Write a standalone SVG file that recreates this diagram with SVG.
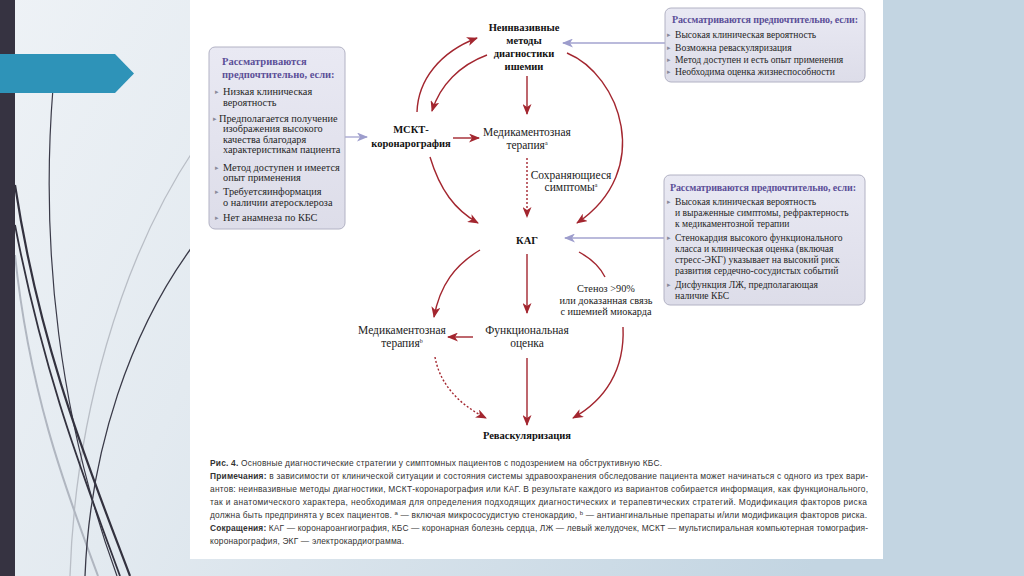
<svg xmlns="http://www.w3.org/2000/svg" width="1024" height="576" viewBox="0 0 1024 576">
<defs>
<linearGradient id="bg" x1="0" y1="0" x2="1" y2="0.3">
<stop offset="0" stop-color="#eef2f6"/>
<stop offset="0.35" stop-color="#e3eaf0"/>
<stop offset="1" stop-color="#c3d5e2"/>
</linearGradient>
<linearGradient id="boxg" x1="0" y1="0" x2="0" y2="1">
<stop offset="0" stop-color="#e9e9f3"/>
<stop offset="1" stop-color="#dddde9"/>
</linearGradient>
<marker id="ar" markerUnits="userSpaceOnUse" markerWidth="11" markerHeight="9" refX="10" refY="4.5" orient="auto">
<path d="M0,0 L11,4.5 L0,9 L3,4.5 z" fill="#a3262f"/>
</marker>
<marker id="ag" markerUnits="userSpaceOnUse" markerWidth="11" markerHeight="9" refX="10" refY="4.5" orient="auto">
<path d="M0,0 L11,4.5 L0,9 L3,4.5 z" fill="#9d9dcc"/>
</marker>
<style>
.red{fill:none;stroke:#a3262f;stroke-width:1.4}
.dot{stroke-dasharray:2,2}
.gry{fill:none;stroke:#a3a3cf;stroke-width:1.3}
.box{fill:url(#boxg);stroke:#b2b2c4;stroke-width:1}
.ttl{font-family:"Liberation Serif",serif;font-weight:bold;fill:#5b4f98}
.bt{font-family:"Liberation Serif",serif;fill:#262626}
.bul{font-family:"DejaVu Sans",sans-serif;fill:#8a8a9a;font-size:7px}
.nb{font-family:"Liberation Serif",serif;font-weight:bold;fill:#111;text-anchor:middle}
.nr{font-family:"Liberation Serif",serif;fill:#222;text-anchor:middle}
.cap{font-family:"Liberation Sans",sans-serif;fill:#333;font-size:8.4px}
.sup{font-size:6px}
</style>
</defs>
<rect x="0" y="0" width="1024" height="576" fill="url(#bg)"/>
<rect x="883" y="0" width="141" height="576" fill="#c3d5e2"/>
<g id="decor" fill="none">
<path d="M195,148 C120,260 75,420 70,576" stroke="#b9bec6" stroke-width="1.3"/>
<path d="M15,255 C30,400 70,500 98,576" stroke="#b0b6c0" stroke-width="2"/>
<path d="M53,88 C40,250 60,420 117,576" stroke="#3a3a48" stroke-width="1.2"/>
<path d="M15,185 C40,350 90,470 130,576" stroke="#33323f" stroke-width="2.2"/>
<path d="M15,225 C45,380 85,480 120,576" stroke="#33323f" stroke-width="1.8"/>
<path d="M195,243 C130,330 90,450 85,576" stroke="#3a3a48" stroke-width="1.3"/>
</g>
<rect x="0" y="0" width="15" height="576" fill="#363341"/>
<polygon points="0,54 115,54 134,73.5 115,93 0,93" fill="#2e93b8"/>
<rect x="190" y="0" width="693" height="559" fill="#ffffff"/>

<g id="connectors">
<path class="red" d="M417,112 C418,80 440,52 477,38" marker-end="url(#ar)"/>
<path class="red" d="M487,55 C460,65 440,85 432,111" marker-end="url(#ar)"/>
<path class="red" d="M527,76 L527,114" marker-end="url(#ar)"/>
<path class="red" d="M453,138 L479,138" marker-end="url(#ar)"/>
<path class="red" d="M430,157 C440,190 455,210 478,223" marker-end="url(#ar)"/>
<path class="red" d="M567,53 C620,75 655,170 577,223" marker-end="url(#ar)"/>
<path class="red dot" d="M527,158 L527,217" marker-end="url(#ar)"/>
<path class="red" d="M480,250 C455,265 440,285 434,317" marker-end="url(#ar)"/>
<path class="red" d="M527,254 L527,313" marker-end="url(#ar)"/>
<path class="red" d="M579,252 C592,259 600,267 605,277"/>
<path class="red" d="M623,327 C625,370 605,400 573,418" marker-end="url(#ar)"/>
<path class="red" d="M473,337 L448,337" marker-end="url(#ar)"/>
<path class="red" d="M527,358 L527,425" marker-end="url(#ar)"/>
<path class="red dot" d="M435,357 C440,385 460,405 486,418" marker-end="url(#ar)"/>
<path class="gry" d="M665,43 L563,43" marker-end="url(#ag)"/>
<path class="gry" d="M345,137 L367,137" marker-end="url(#ag)"/>
<path class="gry" d="M664,238 L565,238" marker-end="url(#ag)"/>
</g>

<g id="box-left">
<rect class="box" x="209" y="47" width="136" height="182" rx="6"/>
<text class="ttl" font-size="10.5" x="222" y="65">Рассматриваются</text>
<text class="ttl" font-size="10.5" x="222" y="78">предпочтительно, если:</text>
<text class="bul" x="215" y="94">▸</text>
<text class="bt" font-size="10.3" x="223" y="95">Низкая клиническая</text>
<text class="bt" font-size="10.3" x="223" y="106">вероятность</text>
<text class="bul" x="213" y="121">▸</text>
<text class="bt" font-size="10.3" x="219" y="122">Предполагается получение</text>
<text class="bt" font-size="10.3" x="223" y="132">изображения высокого</text>
<text class="bt" font-size="10.3" x="223" y="143">качества благодаря</text>
<text class="bt" font-size="10.3" x="223" y="153">характеристикам пациента</text>
<text class="bul" x="215" y="170">▸</text>
<text class="bt" font-size="10.3" x="223" y="171">Метод доступен и имеется</text>
<text class="bt" font-size="10.3" x="223" y="181">опыт применения</text>
<text class="bul" x="215" y="194">▸</text>
<text class="bt" font-size="10.3" x="223" y="195">Требуетсяинформация</text>
<text class="bt" font-size="10.3" x="223" y="206">о наличии атеросклероза</text>
<text class="bul" x="215" y="220">▸</text>
<text class="bt" font-size="10.3" x="223" y="221">Нет анамнеза по КБС</text>
</g>

<g id="box-top-right">
<rect class="box" x="665" y="8" width="200" height="74" rx="6"/>
<text class="ttl" font-size="10" x="672" y="23" textLength="186">Рассматриваются предпочтительно, если:</text>
<text class="bul" x="667" y="37">▸</text>
<text class="bt" font-size="9.6" x="675" y="38">Высокая клиническая вероятность</text>
<text class="bul" x="667" y="50">▸</text>
<text class="bt" font-size="9.6" x="675" y="51">Возможна реваскуляризация</text>
<text class="bul" x="667" y="62">▸</text>
<text class="bt" font-size="9.6" x="675" y="63">Метод доступен и есть опыт применения</text>
<text class="bul" x="667" y="74">▸</text>
<text class="bt" font-size="9.6" x="675" y="75">Необходима оценка жизнеспособности</text>
</g>

<g id="box-mid-right">
<rect class="box" x="664" y="175" width="201" height="130" rx="6"/>
<text class="ttl" font-size="10" x="670" y="191" textLength="186">Рассматриваются предпочтительно, если:</text>
<text class="bul" x="667" y="204">▸</text>
<text class="bt" font-size="9.6" x="675" y="205">Высокая клиническая вероятность</text>
<text class="bt" font-size="9.6" x="675" y="216">и выраженные симптомы, рефрактерность</text>
<text class="bt" font-size="9.6" x="675" y="227">к медикаментозной терапии</text>
<text class="bul" x="667" y="240">▸</text>
<text class="bt" font-size="9.6" x="675" y="241">Стенокардия высокого функционального</text>
<text class="bt" font-size="9.6" x="675" y="252">класса и клиническая оценка (включая</text>
<text class="bt" font-size="9.6" x="675" y="263">стресс-ЭКГ) указывает на высокий риск</text>
<text class="bt" font-size="9.6" x="675" y="274">развития сердечно-сосудистых событий</text>
<text class="bul" x="667" y="287">▸</text>
<text class="bt" font-size="9.6" x="675" y="288">Дисфункция ЛЖ, предполагающая</text>
<text class="bt" font-size="9.6" x="675" y="299">наличие КБС</text>
</g>

<g id="node-noninvasive">
<text class="nb" font-size="10.5" x="524" y="31">Неинвазивные</text>
<text class="nb" font-size="10.5" x="524" y="44">методы</text>
<text class="nb" font-size="10.5" x="524" y="57">диагностики</text>
<text class="nb" font-size="10.5" x="524" y="70">ишемии</text>
</g>
<g id="node-msct">
<text class="nb" font-size="10.5" x="411" y="133">МСКТ-</text>
<text class="nb" font-size="10.5" x="411" y="147">коронарография</text>
</g>
<g id="node-med1">
<text class="nr" font-size="11.5" x="527" y="136">Медикаментозная</text>
<text class="nr" font-size="11.5" x="527" y="149">терапия<tspan class="sup" dy="-4">a</tspan></text>
</g>
<g id="node-symptoms">
<text class="nr" font-size="11.5" x="571" y="179">Сохраняющиеся</text>
<text class="nr" font-size="11.5" x="571" y="191">симптомы<tspan class="sup" dy="-4">a</tspan></text>
</g>
<g id="node-kag">
<text class="nb" font-size="10.5" x="527" y="244">КАГ</text>
</g>
<g id="node-stenosis">
<text class="nr" font-size="10.3" x="606" y="292">Стеноз &gt;90%</text>
<text class="nr" font-size="10.3" x="606" y="304">или доказанная связь</text>
<text class="nr" font-size="10.3" x="606" y="315">с ишемией миокарда</text>
</g>
<g id="node-med2">
<text class="nr" font-size="11.5" x="402" y="334">Медикаментозная</text>
<text class="nr" font-size="11.5" x="402" y="347">терапия<tspan class="sup" dy="-4">b</tspan></text>
</g>
<g id="node-functional">
<text class="nr" font-size="11.5" x="527" y="334">Функциональная</text>
<text class="nr" font-size="11.5" x="527" y="347">оценка</text>
</g>
<g id="node-revasc">
<text class="nb" font-size="10.5" x="527" y="439">Реваскуляризация</text>
</g>

<g id="caption">
<text class="cap" x="210" y="466" textLength="452" lengthAdjust="spacing"><tspan font-weight="bold">Рис. 4.</tspan> Основные диагностические стратегии у симптомных пациентов с подозрением на обструктивную КБС.</text>
<text class="cap" x="210" y="479" textLength="658" lengthAdjust="spacing"><tspan font-weight="bold">Примечания:</tspan> в зависимости от клинической ситуации и состояния системы здравоохранения обследование пациента может начинаться с одного из трех вари-</text>
<text class="cap" x="210" y="492" textLength="658" lengthAdjust="spacing">антов: неинвазивные методы диагностики, МСКТ-коронарография или КАГ. В результате каждого из вариантов собирается информация, как функционального,</text>
<text class="cap" x="210" y="505" textLength="657" lengthAdjust="spacing">так и анатомического характера, необходимая для определения подходящих диагностических и терапевтических стратегий. Модификация факторов риска</text>
<text class="cap" x="210" y="518" textLength="657" lengthAdjust="spacing">должна быть предпринята у всех пациентов. <tspan class="sup" dy="-3">a</tspan><tspan dy="3"> — включая микрососудистую стенокардию, </tspan><tspan class="sup" dy="-3">b</tspan><tspan dy="3"> — антиангинальные препараты и/или модификация факторов риска.</tspan></text>
<text class="cap" x="210" y="531" textLength="658" lengthAdjust="spacing"><tspan font-weight="bold">Сокращения:</tspan> КАГ — коронароангиография, КБС — коронарная болезнь сердца, ЛЖ — левый желудочек, МСКТ — мультиспиральная компьютерная томография-</text>
<text class="cap" x="210" y="544" textLength="194" lengthAdjust="spacing">коронарография, ЭКГ — электрокардиограмма.</text>
</g>
</svg>
